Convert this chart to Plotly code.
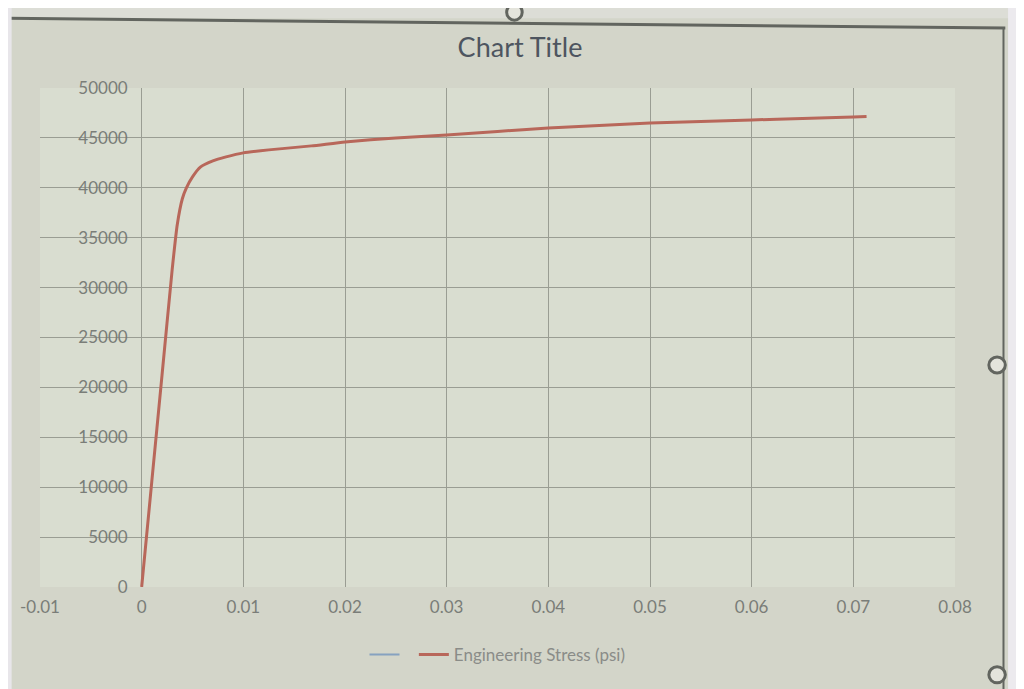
"""Curva tensión-deformación (foto de un gráfico de Excel) recreada con Plotly."""

import plotly.graph_objects as go

# Datos (deformación ingenieril vs. tensión en psi).
strain = [0, 0.001, 0.002, 0.003, 0.0035, 0.004, 0.0044, 0.005, 0.0058, 0.007,
          0.0083, 0.01, 0.0125, 0.0167, 0.02, 0.025, 0.03, 0.035, 0.04, 0.045,
          0.05, 0.055, 0.06, 0.065, 0.07, 0.0713]
stress = [0, 10600, 21200, 31800, 36300, 38900, 40000, 41100, 42100, 42700,
          43100, 43500, 43800, 44200, 44600, 45000, 45300, 45650, 46000, 46250,
          46500, 46650, 46800, 46950, 47100, 47150]

x_ticks = [-0.01, 0, 0.01, 0.02, 0.03, 0.04, 0.05, 0.06, 0.07, 0.08]
x_labels = ["-0.01", "0", "0.01", "0.02", "0.03", "0.04", "0.05", "0.06", "0.07", "0.08"]
y_ticks = [0, 5000, 10000, 15000, 20000, 25000, 30000, 35000, 40000, 45000, 50000]
y_labels = [str(v) for v in y_ticks]

FONT = "Lato, 'Open Sans', sans-serif"
GRID = "#9a9d93"
FRAME = "#62655f"

fig = go.Figure()
# Serie vacía (solo aparece en la leyenda, como en el original).
fig.add_trace(go.Scatter(x=[None], y=[None], mode="lines", name=" ",
                         line=dict(color="#86a2c0", width=2), showlegend=True))
fig.add_trace(go.Scatter(x=strain, y=stress, mode="lines", name="Engineering Stress (psi)",
                         line=dict(color="#b8675a", width=3, shape="spline", smoothing=0.5)))

# La página tiene 8 px de margen en el body: los márgenes ya lo descuentan.
fig.update_layout(
    width=1024, height=689,
    margin=dict(l=29, r=77, t=80, b=110),
    paper_bgcolor="#d3d5c9", plot_bgcolor="#d9ddd0",
    font=dict(family=FONT, color="#7a7d78", size=17),
    title=dict(text="Chart Title", x=0.5, xanchor="center", y=0.943, yanchor="middle",
               font=dict(family=FONT, size=27, color="#4e5560")),
    legend=dict(orientation="h", x=0.5, xanchor="center", y=-0.136, yanchor="middle",
                bgcolor="rgba(0,0,0,0)", font=dict(size=17, color="#8a8c88")),
    xaxis=dict(range=[-0.01, 0.08], tickvals=x_ticks, ticktext=x_labels,
               showgrid=True, gridcolor=GRID, gridwidth=1, zeroline=False,
               showline=False, ticks="", ticklabelstandoff=8),
    yaxis=dict(range=[0, 50000], tickvals=y_ticks, ticktext=y_labels,
               anchor="free", position=1 / 9,
               showgrid=True, gridcolor=GRID, gridwidth=1, zeroline=False,
               showline=False, ticks="", ticklabelstandoff=14),
    shapes=[
        # Marco del gráfico seleccionado en Excel y sus tiradores.
        dict(type="rect", xref="paper", yref="paper", x0=-0.045, x1=1.06, y0=1.14, y1=1.2,
             fillcolor="#dcddd6", line=dict(width=0)),
        dict(type="line", xref="paper", yref="paper", x0=-0.045, x1=1.055, y0=1.14, y1=1.12,
             line=dict(color=FRAME, width=3)),
        dict(type="line", xref="paper", yref="paper", x0=1.053, x1=1.053, y0=1.12, y1=-0.21,
             line=dict(color=FRAME, width=2)),
        dict(type="circle", xref="paper", yref="paper", x0=0.51, x1=0.527, y0=1.136, y1=1.168,
             fillcolor="#e4e4dc", line=dict(color=FRAME, width=3)),
        dict(type="circle", xref="paper", yref="paper", x0=1.037, x1=1.055, y0=0.429, y1=0.461,
             fillcolor="#e4e4dc", line=dict(color=FRAME, width=3)),
        dict(type="circle", xref="paper", yref="paper", x0=1.037, x1=1.055, y0=-0.192, y1=-0.16,
             fillcolor="#e4e4dc", line=dict(color=FRAME, width=3)),
        dict(type="rect", xref="paper", yref="paper", x0=1.058, x1=1.09, y0=-0.21, y1=1.2,
             fillcolor="#eceaee", line=dict(width=0)),
        dict(type="rect", xref="paper", yref="paper", x0=-0.05, x1=-0.031, y0=-0.21, y1=1.2,
             fillcolor="#e8e6ea", line=dict(width=0)),
    ],
)

fig.write_html("out.html")
